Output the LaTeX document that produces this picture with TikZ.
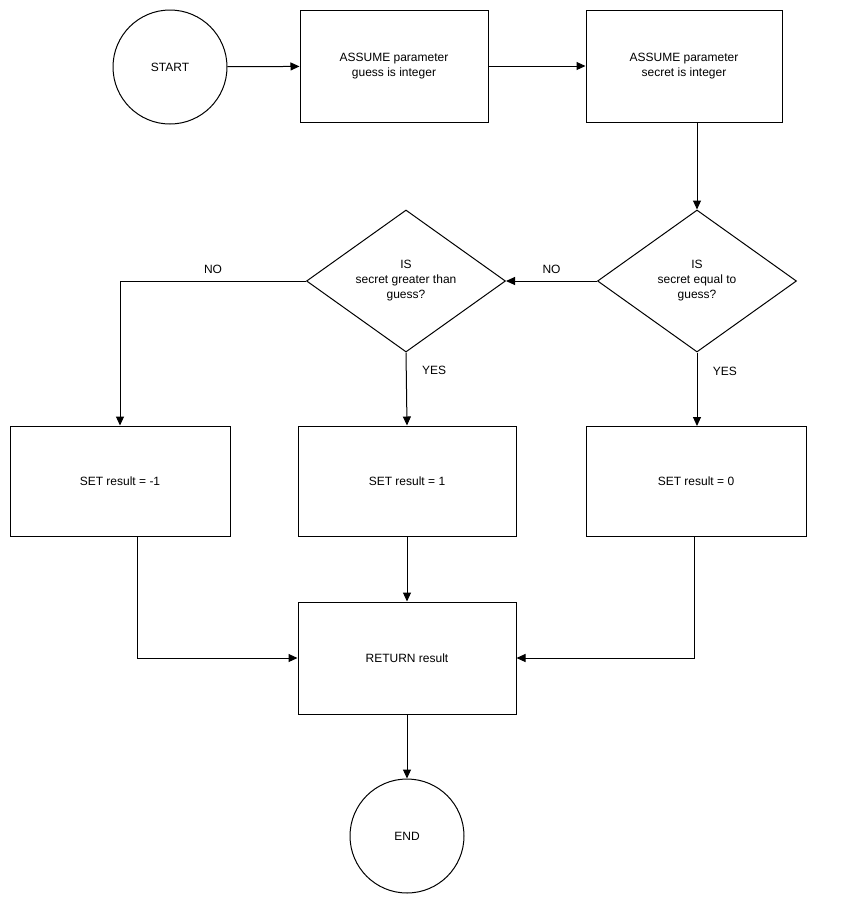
\documentclass[tikz,border=0pt]{standalone}
\usepackage{fontspec}
\setmainfont{Liberation Sans}
\usetikzlibrary{shapes.geometric,arrows.meta}
\begin{document}
\begin{tikzpicture}[x=1pt,y=-1pt,
  every node/.style={font=\fontsize{12}{15}\selectfont, align=center},
  box/.style={draw, line width=1pt, minimum width=188pt, minimum height=112pt, inner sep=0pt},
  circ/.style={draw, circle, line width=1pt, minimum size=114pt, inner sep=0pt},
  dia/.style={draw, diamond, line width=1pt, minimum width=199pt, minimum height=142pt, inner sep=0pt, aspect=1.4},
  arr/.style={line width=1pt, -{Triangle[length=9pt,width=8pt]}},
  lab/.style={font=\fontsize{12}{15}\selectfont}]
\useasboundingbox (0,0) rectangle (862,922);
\node[circ] (start) at (170,67) {START};
\node[box] (b1) at (394,66) {ASSUME parameter\\guess is integer};
\node[box, minimum width=196pt] (b2) at (684,66) {ASSUME parameter\\secret is integer};
\node[dia] (d2) at (697,281) {};
\node at (697,281) {IS\\secret equal to\\guess?};
\node[dia] (d1) at (406,281) {};
\node at (406,281) {IS\\secret greater than\\guess?};
\node[box, minimum width=220pt, minimum height=110pt] (s1) at (120,481) {SET result = -1};
\node[box, minimum width=218pt, minimum height=110pt] (s2) at (407,481) {SET result = 1};
\node[box, minimum width=220pt, minimum height=110pt] (s3) at (696,481) {SET result = 0};
\node[box, minimum width=218pt] (ret) at (407,658) {RETURN result};
\node[circ] (end) at (407,836) {END};
\draw[arr] (start) -- (b1);
\draw[arr] (b1) -- (b1 -| b2.west);
\draw[arr] (697,122) -- (d2.north);
\draw[arr] (d2.west) -- node[lab, above=4pt] {NO} (d1.east);
\draw[arr] (d1.west) -- node[lab, pos=0.5, above=4pt] {NO} (120,281) -- (s1.north);
\draw[arr] (d1.south) -- node[lab, pos=0.25, right=12pt] {YES} (s2.north);
\draw[arr] (d2.south) -- node[lab, pos=0.25, right=12pt] {YES} (697,426);
\draw[arr] (137,536) -- (137,658) -- (ret.west);
\draw[arr] (694,536) -- (694,658) -- (ret.east);
\draw[arr] (s2) -- (ret);
\draw[arr] (ret) -- (end);
\end{tikzpicture}
\end{document}
